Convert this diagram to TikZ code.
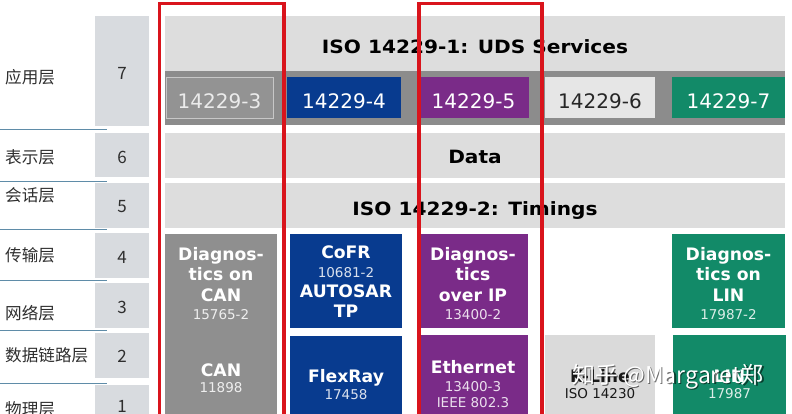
\documentclass[tikz,border=0pt]{standalone}
\usepackage{fontspec}
\usetikzlibrary{fit}
\newfontfamily\titlefont[FakeStretch=1.1]{DejaVu Sans}
\newfontfamily\vfont{DejaVu Sans}
\newfontfamily\cjk{Noto Sans CJK SC}
\definecolor{bargray}{HTML}{DDDDDD}
\definecolor{numgray}{HTML}{D8DBDF}
\definecolor{stripgray}{HTML}{8C8C8C}
\definecolor{boxgray}{HTML}{939393}
\definecolor{colgray}{HTML}{8F8F8F}
\definecolor{udsblue}{HTML}{083B8F}
\definecolor{udspurple}{HTML}{7A2B88}
\definecolor{udsgreen}{HTML}{128A68}
\definecolor{lightbox}{HTML}{E6E6E6}
\definecolor{klinegray}{HTML}{DADADA}
\definecolor{hlred}{HTML}{D9141C}
\definecolor{sepline}{HTML}{5F8CA8}
\definecolor{labtext}{HTML}{2E2E2E}
\tikzset{
  blk/.style={inner sep=0pt, outer sep=0pt},
  numtxt/.style={font=\cjk\fontsize{17}{20}\selectfont, text=labtext, inner sep=0pt},
  labtxt/.style={font=\cjk\fontsize{16.6}{19}\selectfont, text=labtext, inner sep=0pt, anchor=west},
  septxt/.style={draw=sepline, line width=0.8pt},
  bartitle/.style={font=\titlefont\bfseries\fontsize{18.3}{22}\selectfont, text=black, anchor=base, inner sep=0pt},
  striptxt/.style={font=\vfont\fontsize{20}{24}\selectfont, anchor=base, inner sep=0pt},
  bt/.style={font=\vfont\bfseries\fontsize{17.2}{20}\selectfont, text=white, anchor=base, inner sep=0pt},
  st/.style={font=\vfont\fontsize{13.5}{16}\selectfont, text=white, text opacity=0.85, anchor=base, inner sep=0pt},
  frame/.style={draw=hlred, line width=3.5pt, inner sep=0pt, outer sep=0pt},
}
\begin{document}
\begin{tikzpicture}[x=1pt,y=-1pt]
\useasboundingbox (0,0) rectangle (792,413);
\clip (0,0) rectangle (792,413);
% ---------- left OSI column ----------
\node[blk, fill=numgray, fit={(95,16) (149,126)}] (n7) {};
\node[blk, fill=numgray, fit={(95,133) (149,177)}] (n6) {};
\node[blk, fill=numgray, fit={(95,183) (149,228)}] (n5) {};
\node[blk, fill=numgray, fit={(95,233) (149,278)}] (n4) {};
\node[blk, fill=numgray, fit={(95,283) (149,328)}] (n3) {};
\node[blk, fill=numgray, fit={(95,333) (149,378)}] (n2) {};
\node[blk, fill=numgray, fit={(95,385) (149,430)}] (n1) {};
\node[numtxt] (t7) at (122,73) {7};
\node[numtxt] (t6) at (122,157) {6};
\node[numtxt] (t5) at (122,207) {5};
\node[numtxt] (t4) at (122,257) {4};
\node[numtxt] (t3) at (122,307) {3};
\node[numtxt] (t2) at (122,356) {2};
\node[numtxt] (t1) at (122,406) {1};
\node[labtxt] (l7) at (5,77) {应用层};
\node[labtxt] (l6) at (5,157) {表示层};
\node[labtxt] (l5) at (5,195) {会话层};
\node[labtxt] (l4) at (5,255) {传输层};
\node[labtxt] (l3) at (5,313) {网络层};
\node[labtxt] (l2) at (5,355) {数据链路层};
\node[labtxt] (l1) at (5,409) {物理层};
\foreach \yy/\nm in {129/a,181.5/b,229.5/c,280/d,330.5/e,383/f}{
  \coordinate (sep\nm1) at (0,\yy);
  \coordinate (sep\nm2) at (107,\yy);
  \draw[septxt] (sep\nm1) -- (sep\nm2);
}
% ---------- application layer ----------
\node[blk, fill=bargray, fit={(165,16) (785,71)}] (app) {};
\node[blk, fill=stripgray, fit={(165,71) (785,125)}] (strip) {};
\node[blk, fill=boxgray, draw=white!78!black, line width=1pt, fit={(166,77.5) (273.5,118)}] (p3) {};
\node[blk, fill=udsblue, fit={(287,77) (401,118)}] (p4) {};
\node[blk, fill=udspurple, fit={(418,77) (529,118)}] (p5) {};
\node[blk, fill=lightbox, fit={(545,77) (655,118)}] (p6) {};
\node[blk, fill=udsgreen, fit={(672,77) (785,118)}] (p7) {};
\node[bartitle] (apptxt) at (475,53) {ISO 14229-1: UDS Services};
\node[striptxt, text=white!92!black] (p3t) at (219.5,108) {14229-3};
\node[striptxt, text=white] (p4t) at (344,108) {14229-4};
\node[striptxt, text=white] (p5t) at (473.5,108) {14229-5};
\node[striptxt, text=black!85] (p6t) at (600,108) {14229-6};
\node[striptxt, text=white] (p7t) at (728.5,108) {14229-7};
% ---------- presentation / session ----------
\node[blk, fill=bargray, fit={(165,133) (785,178)}] (pres) {};
\node[bartitle] (prest) at (475,163.5) {Data};
\node[blk, fill=bargray, fit={(165,183) (785,228)}] (sess) {};
\node[bartitle] (sesst) at (475,215) {ISO 14229-2: Timings};
% ---------- lower boxes ----------
\node[blk, fill=colgray, fit={(165,234) (277,430)}] (canc) {};
\node[blk, fill=udsblue, fit={(290,234) (402,328)}] (cofr) {};
\node[blk, fill=udsblue, fit={(290,336) (402,430)}] (flex) {};
\node[blk, fill=udspurple, fit={(418,234) (528,328)}] (doip) {};
\node[blk, fill=udspurple, fit={(418,335) (528,430)}] (eth) {};
\node[blk, fill=klinegray, fit={(545,335) (655,430)}] (kline) {};
\node[blk, fill=udsgreen, fit={(672,234) (785,328)}] (dlin) {};
\node[blk, fill=udsgreen, fit={(673,335) (786,430)}] (lin) {};
% CAN column
\node[bt] (c1) at (221,260) {Diagnos-};
\node[bt] (c2) at (221,280) {tics on};
\node[bt] (c3) at (221,301) {CAN};
\node[st] (c4) at (221,319) {15765-2};
\node[bt] (c5) at (221,376) {CAN};
\node[st] (c6) at (221,392) {11898};
% blue column
\node[bt] (b1) at (346,258) {CoFR};
\node[st] (b2) at (346,277) {10681-2};
\node[bt] (b3) at (346,297.5) {AUTOSAR};
\node[bt] (b4) at (346,317) {TP};
\node[bt] (b5) at (346,382) {FlexRay};
\node[st] (b6) at (346,399) {17458};
% purple column
\node[bt] (d1) at (473,260) {Diagnos-};
\node[bt] (d2) at (473,280) {tics};
\node[bt] (d3) at (473,301) {over IP};
\node[st] (d4) at (473,319) {13400-2};
\node[bt] (e1) at (473,373) {Ethernet};
\node[st] (e2) at (473,391) {13400-3};
\node[st] (e3) at (473,407) {IEEE 802.3};
% K-Line
\node[bt, text=black!90] (k1) at (600,382) {K-Line};
\node[st, text=black!90, text opacity=1] (k2) at (600,398) {ISO 14230};
% green column
\node[bt] (g1) at (728.5,260) {Diagnos-};
\node[bt] (g2) at (728.5,280) {tics on};
\node[bt] (g3) at (728.5,301) {LIN};
\node[st] (g4) at (728.5,319) {17987-2};
\node[bt] (h1) at (729.5,382) {LIN};
\node[st] (h2) at (729.5,398) {17987};
% ---------- red highlight frames ----------
\node[frame, fit={(159.5,3.5) (284,440)}] (hl1) {};
\node[frame, fit={(419,3.5) (542,440)}] (hl2) {};
% ---------- watermark ----------
\node[font=\cjk\fontsize{23}{26}\selectfont, text=black, text opacity=0.55, anchor=base, inner sep=0pt] (wms) at (669.2,384.2) {知乎 @Margaret郑};
\node[font=\cjk\fontsize{23}{26}\selectfont, text=white, anchor=base, inner sep=0pt] (wm) at (668,383) {知乎 @Margaret郑};
\end{tikzpicture}
\end{document}
